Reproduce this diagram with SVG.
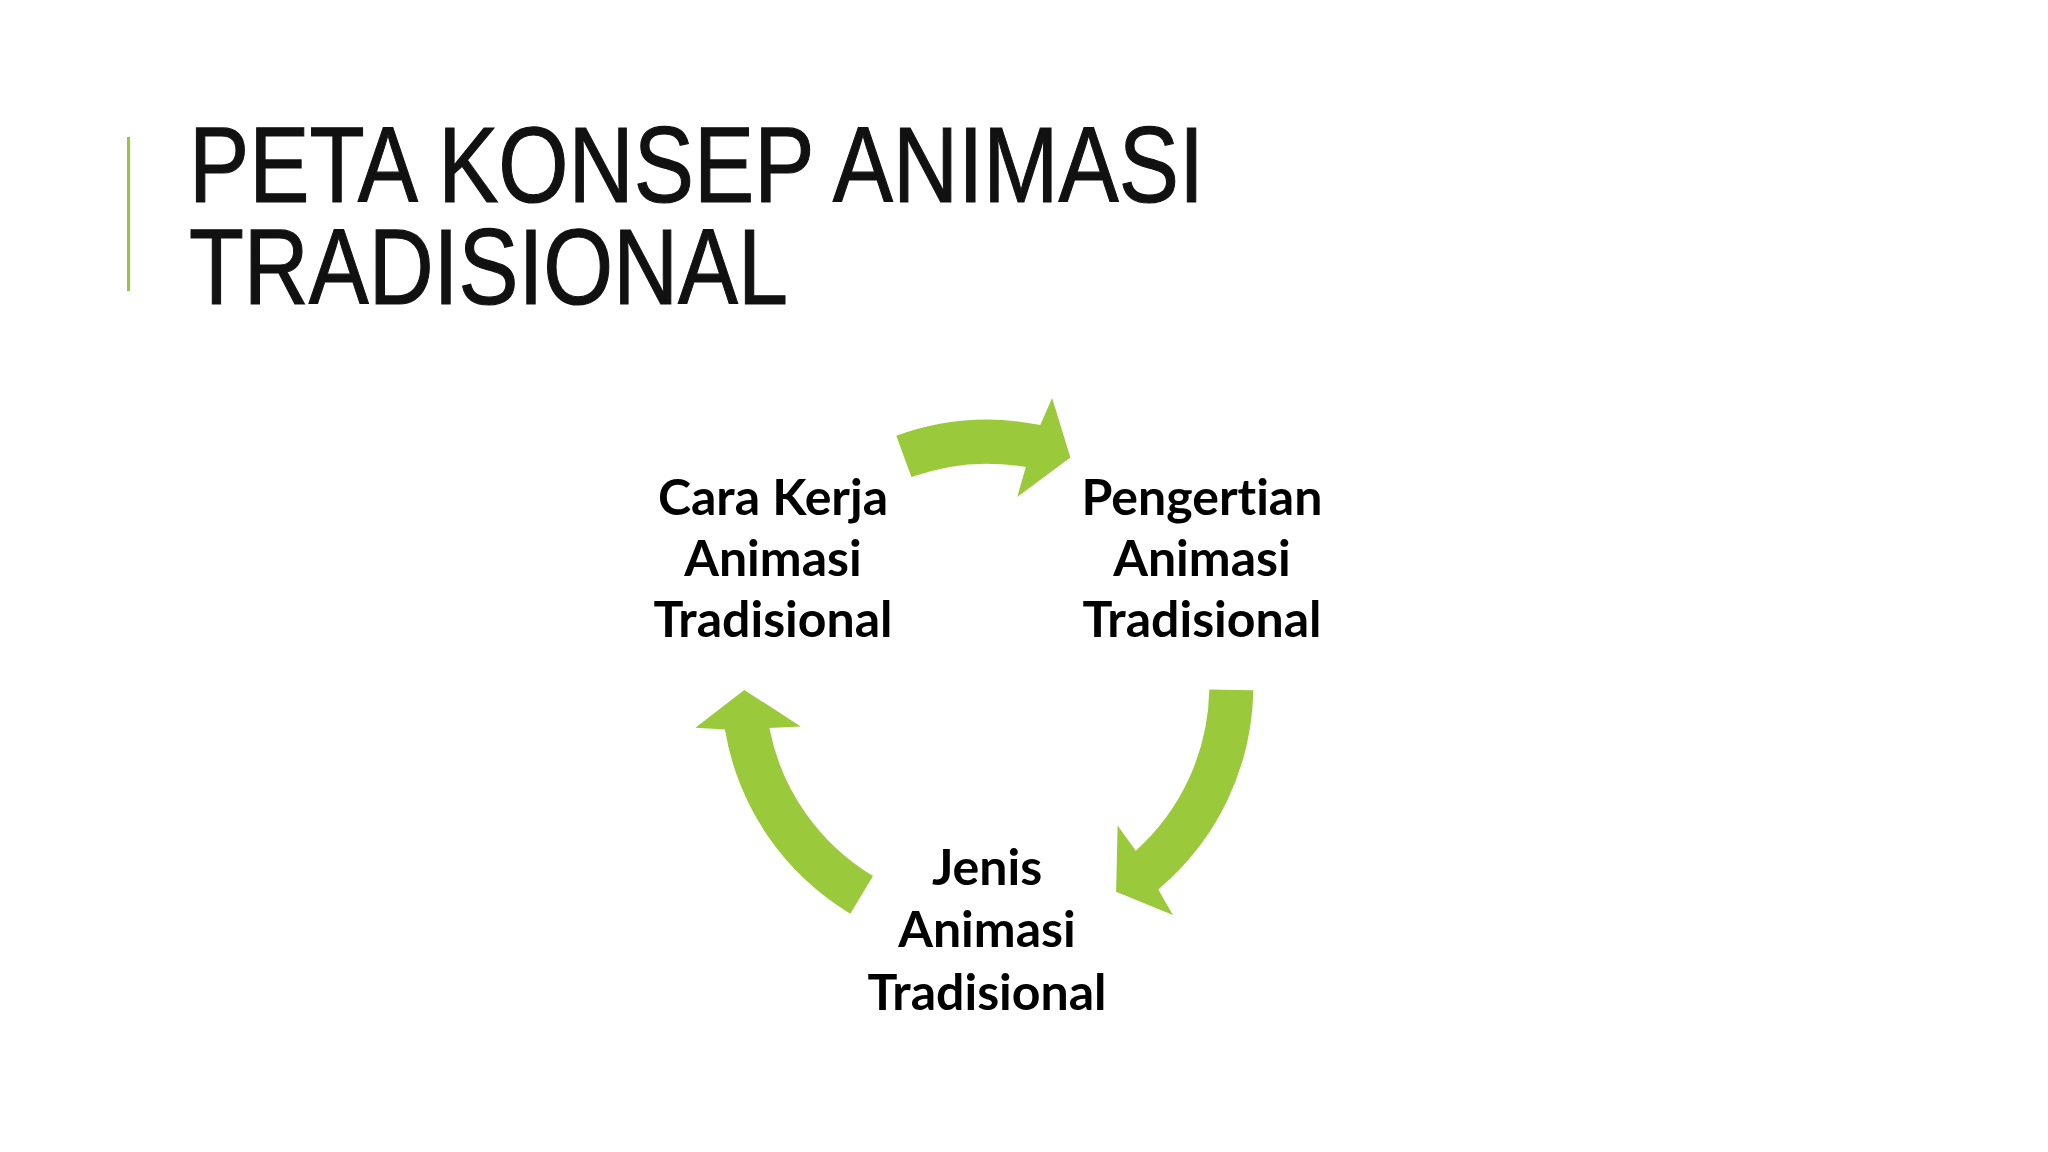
<svg xmlns="http://www.w3.org/2000/svg" width="2048" height="1152" viewBox="0 0 2048 1152">
<style>
.title{font-family:"Liberation Sans",Arial,sans-serif;font-size:108px;fill:#111;stroke:#111;stroke-width:1.2px}
.lbl{font-family:Lato,"Open Sans",sans-serif;font-weight:bold;font-size:50px;fill:#000;text-anchor:middle;font-variant-ligatures:none;font-feature-settings:"liga" 0}
.arr{fill:#9ACA3C}
</style>
<rect width="2048" height="1152" fill="#fff"/>
<g id="title">
<rect x="127" y="137" width="3" height="154" fill="#92C83E"/>
<text class="title"><tspan x="189" y="202" textLength="1015" lengthAdjust="spacingAndGlyphs">PETA KONSEP ANIMASI</tspan><tspan x="189" y="304" textLength="599" lengthAdjust="spacingAndGlyphs">TRADISIONAL</tspan></text>
</g>
<g id="connectors">
<path class="arr" d="M 896.3 435.7 A 266 266 0 0 1 1040.3 425.0 L 1052.1 397.9 L 1070.4 457.4 L 1017.2 497.1 L 1025.8 467.1 A 222 222 0 0 0 911.4 477.1 Z"/>
<path class="arr" d="M 1253.3 690.3 A 266 266 0 0 1 1158.3 889.5 L 1172.9 915.0 L 1116.1 891.8 L 1117.6 825.4 L 1135.8 850.7 A 222 222 0 0 0 1209.3 689.6 Z"/>
<path class="arr" d="M 850.3 913.7 A 266 266 0 0 1 724.9 729.6 L 695.3 727.8 L 744.3 689.9 L 800.7 726.4 L 769.4 728.1 A 222 222 0 0 0 873.0 876.0 Z"/>
</g>
<g id="node-pengertian">
<text class="lbl" x="1202" y="515">Pengertian</text>
<text class="lbl" x="1202" y="576">Animasi</text>
<text class="lbl" x="1202" y="637">Tradisional</text>
</g>
<g id="node-jenis">
<text class="lbl" x="987" y="885">Jenis</text>
<text class="lbl" x="987" y="947">Animasi</text>
<text class="lbl" x="987" y="1010">Tradisional</text>
</g>
<g id="node-cara-kerja">
<text class="lbl" x="773" y="515">Cara Kerja</text>
<text class="lbl" x="773" y="576">Animasi</text>
<text class="lbl" x="773" y="637">Tradisional</text>
</g>
</svg>
